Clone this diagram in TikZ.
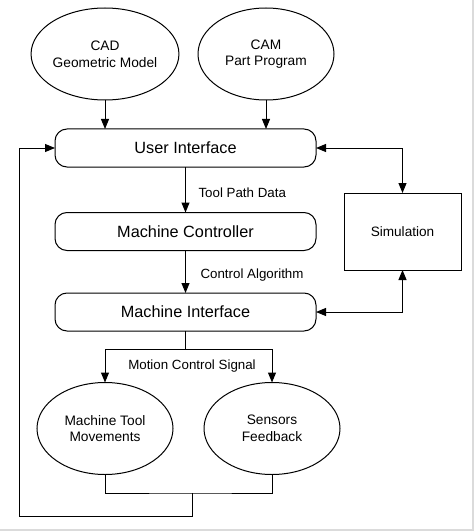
\documentclass[tikz,border=0pt]{standalone}
\usepackage{fontspec}
\setmainfont{Liberation Sans}
\usetikzlibrary{arrows.meta,shapes.geometric}
\begin{document}
\begin{tikzpicture}[x=0.75pt,y=-0.75pt,
  line width=0.75pt,
  arr/.style={-{Triangle[length=7.5pt,width=6pt]}},
  darr/.style={{Triangle[length=7.5pt,width=6pt]}-{Triangle[length=7.5pt,width=6pt]}},
  oval/.style={draw,ellipse,minimum width=102pt,minimum height=69pt,inner sep=0pt,outer sep=0pt,align=center,font=\fontsize{10.3pt}{12.5pt}\selectfont},
  rbox/.style={draw,rounded corners=9pt,minimum width=195.75pt,minimum height=28.5pt,inner sep=0pt,outer sep=0pt,font=\fontsize{12.2pt}{14pt}\selectfont},
  sbox/.style={draw,minimum width=87.75pt,minimum height=57.75pt,inner sep=0pt,outer sep=0pt,font=\fontsize{10.2pt}{12pt}\selectfont},
  lbl/.style={font=\fontsize{10pt}{12pt}\selectfont,inner sep=0pt}]
\useasboundingbox (0,0) rectangle (474,531);
\fill[white] (0,0) rectangle (474,531);
\fill[black!14] (472,0) rectangle (474,531);
\fill[black!14] (0,529) rectangle (474,531);

\node[oval] (cad) at (105,54) {CAD\\Geometric Model};
\node[oval] (cam) at (266,54) {CAM\\Part Program};
\node[rbox] (ui) at (185.5,148) {User Interface};
\node[rbox] (mc) at (185.5,231.5) {Machine Controller};
\node[rbox] (mi) at (185.5,312) {Machine Interface};
\node[sbox] (sim) at (402.5,231.5) {Simulation};
\node[oval] (mt) at (105,428.5) {Machine Tool\\Movements};
\node[oval] (sf) at (272,428.5) {Sensors\\Feedback};

\coordinate (sp) at (185.5,349);
\coordinate (jn) at (192,493);
\coordinate (fb) at (19,516);

\draw[arr] (cad.south) -- (cad.south |- ui.north);
\draw[arr] (cam.south) -- (cam.south |- ui.north);
\draw[arr] (ui.south) -- (mc.north);
\node[lbl,anchor=west] (tpd) at (198,193) {Tool Path Data};
\draw[arr] (mc.south) -- (mi.north);
\node[lbl,anchor=west] (ca) at (200,275) {Control Algorithm};
\draw[darr] (ui.east) -| (sim.north);
\draw[darr] (mi.east) -| (sim.south);
\draw (mi.south) -- (sp);
\draw[arr] (sp) -| (mt.north);
\draw[arr] (sp) -| (sf.north);
\node[lbl] (mcs) at (192,366) {Motion Control Signal};
\draw (mt.south) |- (jn) -| (sf.south);
\draw[arr] (jn) |- (fb) |- (ui.west);
\end{tikzpicture}
\end{document}
